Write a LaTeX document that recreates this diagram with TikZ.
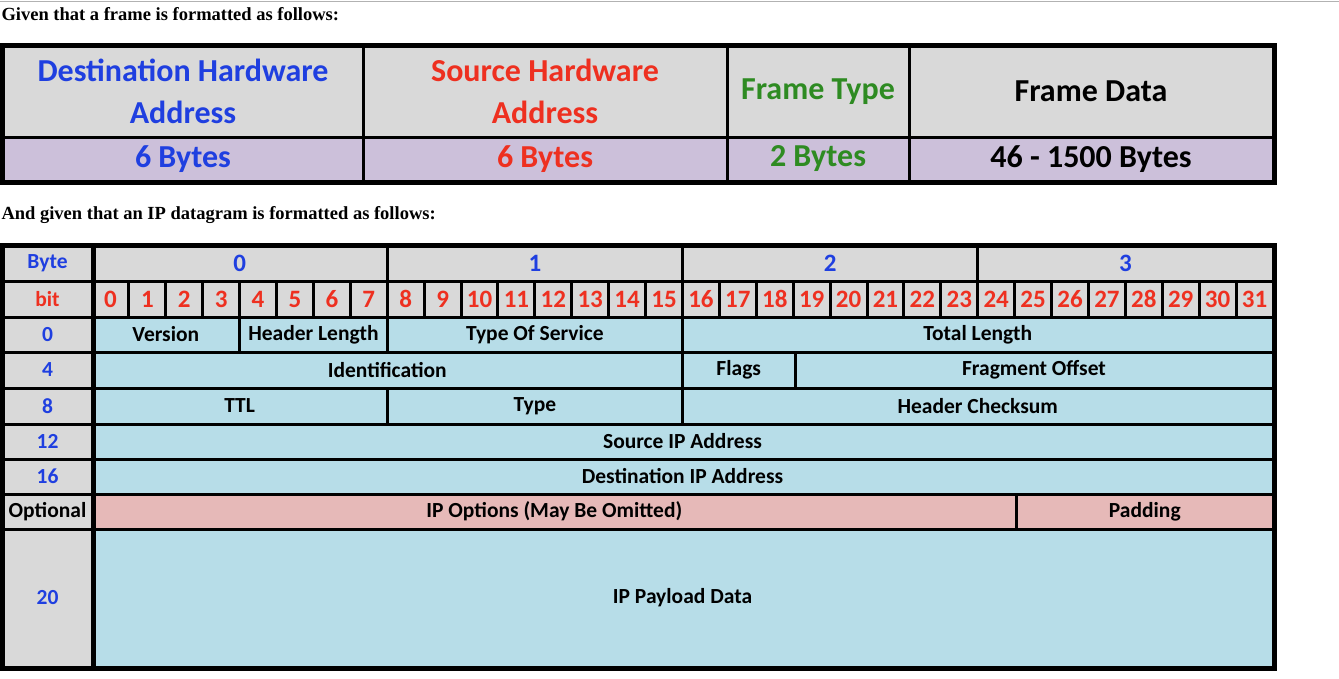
\documentclass[tikz,border=0pt]{standalone}
\usepackage{fontspec}
\setmainfont{Carlito}
\newfontfamily\headfont{Liberation Serif}
\usetikzlibrary{positioning}
\definecolor{cellgray}{HTML}{D9D9D9}
\definecolor{cellpurple}{HTML}{CCC0DA}
\definecolor{cellblue}{HTML}{B7DDE8}
\definecolor{cellpink}{HTML}{E6B9B8}
\definecolor{numblue}{HTML}{1F3FE0}
\definecolor{bitred}{HTML}{EE3020}
\definecolor{typegreen}{HTML}{2E8B22}

% cell from (x1,y1) to (x2,y2), in pixels
\newcommand{\ipcell}[7]{%
  \pgfmathsetmacro\cw{(#3)-(#1)}\pgfmathsetmacro\ch{(#4)-(#2)}%
  \node[cell, fill=#5, minimum width=\cw pt, minimum height=\ch pt]
    (#7) at ({((#1)+(#3))/2},{((#2)+(#4))/2}) {#6};}

\begin{document}
\begin{tikzpicture}[
    x=1pt, y=-1pt,
    cell/.style={rectangle, draw=black, line width=3pt, inner sep=0pt, align=center},
    big/.style={font=\fontsize{32}{42}\selectfont\bfseries},
    small/.style={font=\fontsize{21.5}{24}\selectfont\bfseries},
    digits/.style={font=\fontsize{25}{27}\selectfont\bfseries},
    heading/.style={anchor=west, font=\headfont\fontsize{18.5}{20}\selectfont\bfseries}
]
\useasboundingbox (0,0) rectangle (1339,678);

% top rule and headings
\draw[gray!60, line width=0.8pt] (0,1.5) -- (1339,1.5);
\node[heading] (head1) at (-2,14) {Given that a frame is formatted as follows:};
\node[heading] (head2) at (-2,215) {And given that an IP datagram is formatted as follows:};

% Ethernet frame
\begin{scope}[every node/.append style={big}]
\ipcell{3}{46}{363}{137}{cellgray}{\color{numblue}Destination Hardware\\\color{numblue}Address}{fdst}
\ipcell{363}{46}{727}{137}{cellgray}{\color{bitred}Source Hardware\\\color{bitred}Address}{fsrc}
\ipcell{727}{46}{909}{137}{cellgray}{\color{typegreen}Frame Type}{ftype}
\ipcell{909}{46}{1273}{137}{cellgray}{Frame Data}{fdata}
\ipcell{3}{137}{363}{181}{cellpurple}{\color{numblue}6 Bytes}{bdst}
\ipcell{363}{137}{727}{181}{cellpurple}{\color{bitred}6 Bytes}{bsrc}
\ipcell{727}{137}{909}{181}{cellpurple}{\color{typegreen}2 Bytes}{btype}
\ipcell{909}{137}{1273}{181}{cellpurple}{46 - 1500 Bytes}{bdata}
\end{scope}
\draw[line width=4pt] (fdst.north west) rectangle (bdata.south east);

% IP datagram
\begin{scope}[every node/.append style={small}]
% label column
\ipcell{3}{246}{92}{281}{cellgray}{\color{numblue}Byte}{lbyte}
\ipcell{3}{281}{92}{317}{cellgray}{\color{bitred}bit}{lbit}
\ipcell{3}{317}{92}{352}{cellgray}{\color{numblue}0}{l0}
\ipcell{3}{352}{92}{388}{cellgray}{\color{numblue}4}{l4}
\ipcell{3}{388}{92}{424}{cellgray}{\color{numblue}8}{l8}
\ipcell{3}{424}{92}{459}{cellgray}{\color{numblue}12}{l12}
\ipcell{3}{459}{92}{494}{cellgray}{\color{numblue}16}{l16}
\ipcell{3}{494}{92}{529}{cellgray}{Optional}{lopt}
\ipcell{3}{529}{92}{667}{cellgray}{\color{numblue}20}{l20}
% byte numbers
\foreach \b in {0,...,3}
  \ipcell{92+\b*295.25}{246}{92+(\b+1)*295.25}{281}{cellgray,digits}{\color{numblue}\b}{byte\b};
% bit numbers
\foreach \i in {0,...,31}
  \ipcell{92+\i*36.906}{281}{92+(\i+1)*36.906}{317}{cellgray,digits}{\color{bitred}\i}{bit\i};
% fields
\ipcell{92}{317}{239.6}{352}{cellblue}{Version}{ver}
\ipcell{239.6}{317}{387.25}{352}{cellblue}{Header Length}{hlen}
\ipcell{387.25}{317}{682.5}{352}{cellblue}{Type Of Service}{tos}
\ipcell{682.5}{317}{1273}{352}{cellblue}{Total Length}{tlen}
\ipcell{92}{352}{682.5}{388}{cellblue}{Identification}{ident}
\ipcell{682.5}{352}{795}{388}{cellblue}{Flags}{flags}
\ipcell{795}{352}{1273}{388}{cellblue}{Fragment Offset}{frag}
\ipcell{92}{388}{387.25}{424}{cellblue}{TTL}{ttl}
\ipcell{387.25}{388}{682.5}{424}{cellblue}{Type}{proto}
\ipcell{682.5}{388}{1273}{424}{cellblue}{Header Checksum}{csum}
\ipcell{92}{424}{1273}{459}{cellblue}{Source IP Address}{srcip}
\ipcell{92}{459}{1273}{494}{cellblue}{Destination IP Address}{dstip}
\ipcell{92}{494}{1016.6}{529}{cellpink}{IP Options (May Be Omitted)}{opts}
\ipcell{1016.6}{494}{1273}{529}{cellpink}{Padding}{pad}
\ipcell{92}{529}{1273}{667}{cellblue}{IP Payload Data}{payload}
\end{scope}
\draw[line width=4pt] (lbyte.north west) rectangle (payload.south east);
\draw[line width=5pt] (lbyte.north east) -- (l20.south east);
\end{tikzpicture}
\end{document}
